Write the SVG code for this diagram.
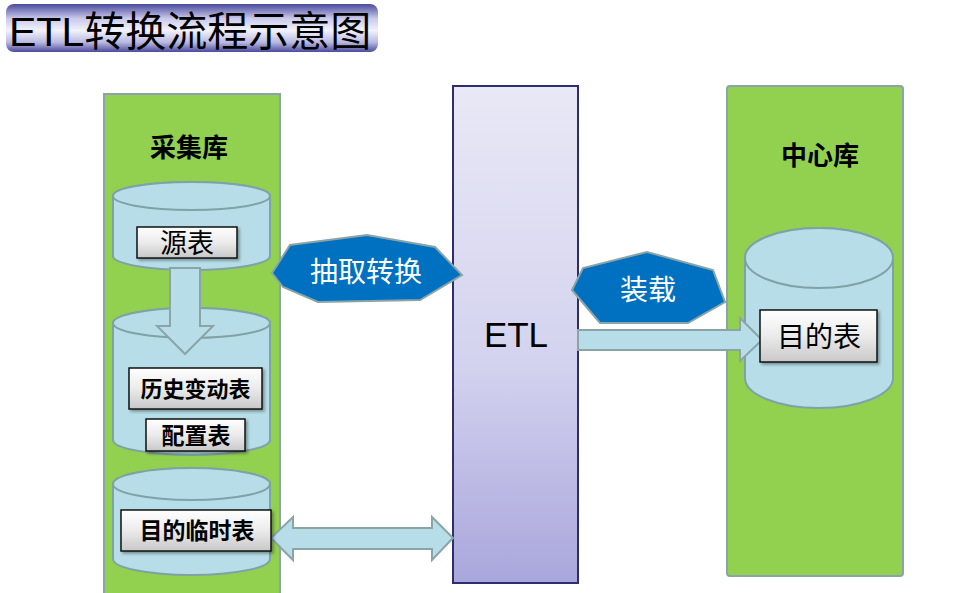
<svg xmlns="http://www.w3.org/2000/svg" width="970" height="593" viewBox="0 0 970 593">
<defs>
<linearGradient id="gTitle" x1="0" y1="0" x2="0" y2="1">
<stop offset="0" stop-color="#4a4a9c"/>
<stop offset="0.3" stop-color="#c8c8ea"/>
<stop offset="0.55" stop-color="#f2f2fb"/>
<stop offset="0.8" stop-color="#b8b8e0"/>
<stop offset="1" stop-color="#4a4a9c"/>
</linearGradient>
<linearGradient id="gEtl" x1="0" y1="0" x2="0" y2="1">
<stop offset="0" stop-color="#e8e8f6"/>
<stop offset="0.55" stop-color="#d4d3ef"/>
<stop offset="1" stop-color="#a9a6dc"/>
</linearGradient>
<linearGradient id="gBox" x1="0" y1="0" x2="0" y2="1">
<stop offset="0" stop-color="#ffffff"/>
<stop offset="0.5" stop-color="#ebebeb"/>
<stop offset="1" stop-color="#c8c8c8"/>
</linearGradient>
<filter id="sh" x="-10%" y="-10%" width="130%" height="130%">
<feDropShadow dx="2" dy="2" stdDeviation="1.5" flood-color="#000" flood-opacity="0.35"/>
</filter>
</defs>
<style>
.panel{fill:#92d050;stroke:#8aa4a8;stroke-width:2}
.cyl{fill:#b7dee8;stroke:#7ea3a6;stroke-width:2}
.box{fill:url(#gBox);stroke:#111;stroke-width:1.5}
.arrow{fill:#b7dee8;stroke:#8aa4a8;stroke-width:2}
.hex{fill:#0070c0;stroke:#8aa4a8;stroke-width:2}
.t{font-family:"Liberation Sans","Noto Sans CJK SC",sans-serif;text-anchor:middle}
.bold{font-weight:bold}
</style>

<g id="title">
<rect x="6" y="4" width="372" height="48" rx="8" fill="url(#gTitle)"/>
<text x="9" y="46" font-family="Liberation Sans,'Noto Sans CJK SC',sans-serif" font-size="41" fill="#000">ETL转换流程示意图</text>
</g>

<g id="panel-left">
<rect class="panel" x="104" y="94" width="176" height="505"/>
<text class="t bold" x="189" y="157" font-size="26">采集库</text>
</g>

<g id="panel-right">
<rect class="panel" x="727" y="86" width="176" height="490" rx="3"/>
<text class="t bold" x="820" y="165" font-size="26">中心库</text>
</g>

<g id="etl">
<rect x="453" y="86" width="125" height="497" fill="url(#gEtl)" stroke="#2e2e6e" stroke-width="2"/>
<text class="t" x="516" y="347" font-size="35" fill="#000">ETL</text>
</g>

<g id="db-source">
<path class="cyl" d="M113,196 L113,256 A78.5,14 0 0 0 270,256 L270,196 A78.5,14 0 0 0 113,196 Z"/>
<ellipse class="cyl" cx="191.5" cy="196" rx="78.5" ry="14"/>
</g>

<g id="db-history">
<path class="cyl" d="M113,323 L113,440 A78.5,15 0 0 0 270,440 L270,323 A78.5,15 0 0 0 113,323 Z"/>
<ellipse class="cyl" cx="191.5" cy="323" rx="78.5" ry="15"/>
</g>

<g id="db-temp">
<path class="cyl" d="M113,484 L113,559 A78.5,16 0 0 0 270,559 L270,484 A78.5,16 0 0 0 113,484 Z"/>
<ellipse class="cyl" cx="191.5" cy="484" rx="78.5" ry="16"/>
</g>

<g id="db-target">
<path class="cyl" d="M745,258 L745,378 A74,30 0 0 0 893,378 L893,258 A74,30 0 0 0 745,258 Z"/>
<ellipse class="cyl" cx="819" cy="258" rx="74" ry="30"/>
</g>

<g id="connectors">
<path class="arrow" d="M170,268 L200,268 L200,326 L213,326 L185,354 L157,326 L170,326 Z"/>
<path class="arrow" d="M271,538 L293,517 L293,528 L432,528 L432,517 L453,538 L432,560 L432,549 L293,549 L293,560 Z"/>
<path class="arrow" d="M578,330 L740,330 L740,318 L762,340 L740,361 L740,350 L578,350 Z"/>
</g>

<g id="box-source">
<rect class="box" x="137" y="227" width="100" height="31" filter="url(#sh)"/>
<text class="t" x="187" y="253" font-size="27">源表</text>
</g>

<g id="box-history">
<rect class="box" x="129" y="368" width="133" height="41" filter="url(#sh)"/>
<text class="t bold" x="195.5" y="397" font-size="22">历史变动表</text>
</g>

<g id="box-config">
<rect class="box" x="146" y="419" width="99" height="32" filter="url(#sh)"/>
<text class="t bold" x="196" y="444" font-size="23">配置表</text>
</g>

<g id="box-temp">
<rect class="box" x="121" y="510" width="150" height="41" filter="url(#sh)"/>
<text class="t bold" x="197" y="539" font-size="23">目的临时表</text>
</g>

<g id="box-target">
<rect class="box" x="760" y="310" width="117" height="52" filter="url(#sh)"/>
<text class="t" x="819" y="347" font-size="28">目的表</text>
</g>

<g id="label-extract">
<polygon class="hex" points="272,273 290,245 367,235 435,247 462,275 420,300 318,302 283,287"/>
<text class="t" x="366" y="282" font-size="28" fill="#fff">抽取转换</text>
</g>

<g id="label-load">
<polygon class="hex" points="572,290 583,268 647,252 713,270 725,302 688,323 600,323"/>
<text class="t" x="648" y="300" font-size="28" fill="#fff">装载</text>
</g>
</svg>
